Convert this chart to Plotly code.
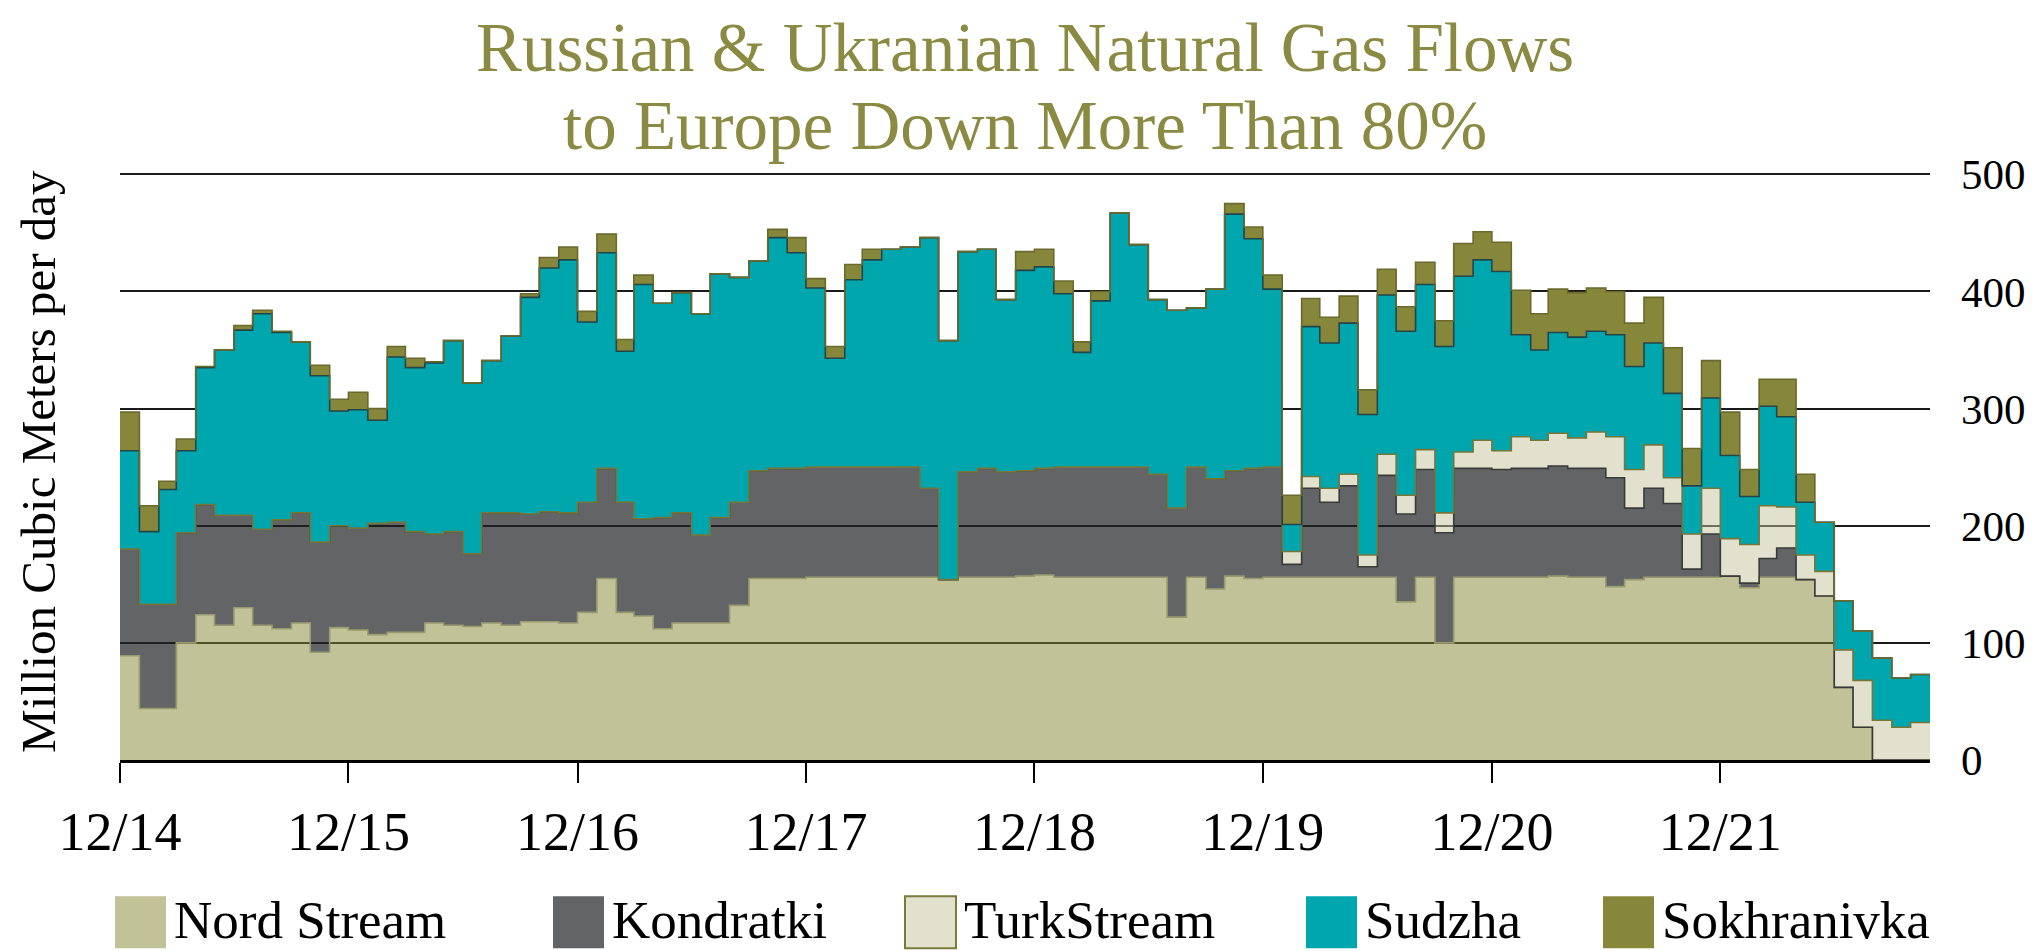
import pandas as pd
from plotly import graph_objects as go

# monthly flows, million cubic meters per day, Dec 2014 .. Oct 2022
nord_stream = [89, 44, 44, 100, 124, 115, 130, 115, 112, 117, 92, 113,
               111, 107, 109, 109, 117, 115, 114, 117, 115, 118, 118, 117,
               126, 155, 126, 123, 112, 117, 117, 117, 132, 155, 155, 155,
               156, 156, 156, 156, 156, 156, 156, 154, 156, 156, 156, 157,
               158, 156, 156, 156, 156, 156, 156, 122, 156, 146, 157, 155,
               156, 156, 156, 156, 156, 156, 156, 135, 156, 100, 156, 156,
               156, 156, 156, 157, 156, 156, 148, 154, 156, 156, 156, 156,
               157, 147, 156, 156, 154, 140, 62, 28, 0, 0, 0]
kondratki = [91, 89, 89, 94, 94, 94, 79, 82, 93, 94, 94, 87,
             87, 95, 94, 86, 76, 80, 62, 94, 96, 92, 94, 94,
             94, 94, 94, 83, 95, 94, 75, 90, 88, 92, 94, 94,
             94, 94, 94, 94, 94, 94, 76, 0, 90, 93, 90, 90,
             91, 94, 94, 94, 94, 94, 88, 93, 94, 94, 90, 94,
             94, 11, 76, 64, 78, 9, 87, 75, 92, 94, 93, 93,
             92, 93, 93, 94, 93, 93, 93, 61, 76, 63, 7, 37,
             0, 4, 16, 25, 0, 0, 0, 0, 0, 0, 0]
turkstream = [0] * 61 + [11, 10, 12, 10, 10, 18, 16, 17, 17, 14, 24,
                         16, 27, 24, 28, 26, 31, 35, 33, 37, 22, 30, 39,
                         32, 33, 45, 35, 21, 21, 32, 40, 34, 28, 32]
sudzha = [84, 62, 98, 70, 117, 141, 158, 184, 160, 146, 142, 98,
          101, 88, 141, 140, 146, 163, 146, 130, 151, 185, 208, 216,
          154, 184, 129, 200, 183, 188, 189, 208, 192, 179, 197, 184,
          153, 93, 160, 177, 186, 188, 214, 204, 188, 187, 147, 171,
          172, 148, 98, 142, 217, 190, 149, 169, 136, 162, 219, 196,
          152, 23, 128, 124, 129, 120, 136, 140, 141, 142, 150, 154,
          153, 87, 77, 86, 86, 86, 87, 88, 87, 72, 41, 77,
          71, 41, 85, 77, 45, 42, 42, 42, 53, 42, 41]
sokhranivka = [33, 22, 7, 10, 1, 0, 4, 3, 1, 0, 9, 10,
               15, 10, 9, 8, 1, 0, 0, 0, 0, 3, 9, 11,
               9, 16, 10, 8, 0, 0, 0, 0, 0, 0, 7, 13,
               8, 10, 13, 9, 0, 0, 0, 0, 0, 0, 0, 16,
               15, 11, 9, 8, 0, 0, 0, 0, 0, 0, 9, 10,
               12, 25, 24, 22, 23, 21, 22, 21, 19, 22, 28, 24,
               25, 38, 31, 37, 38, 37, 37, 37, 39, 39, 32, 32,
               37, 23, 23, 32, 24, 0, 0, 0, 0, 0, 0]

names = ['Nord Stream', 'Kondratki', 'TurkStream', 'Sudzha', 'Sokhranivka']
tick_labels = ['12/14', '12/15', '12/16', '12/17', '12/18', '12/19', '12/20', '12/21']

# fills of the lower bands are partly transparent so the grid shows through, like the original
fill_colors = ['rgba(133,133,51,0.5)', 'rgba(32,34,36,0.7)', 'rgba(195,195,155,0.5)', '#00a6ae', '#87873c']
swatch_colors = ['#c2c299', '#636466', '#e1e1cd', '#00a6ae', '#87873c']
line_colors = ['#9a9a70', '#3a3a3a', '#76763a', '#22454a', '#6a6a2c']
olive = '#8a8a42'
font = 'Liberation Serif'

months = pd.date_range('2014-12-01', periods=len(nord_stream) + 1, freq='MS')
tick_dates = pd.date_range('2014-12-01', periods=len(tick_labels), freq='12MS')

series = [nord_stream, kondratki, turkstream, sudzha, sokhranivka]
fig = go.Figure()
for name, vals, fc, lc in zip(names, series, fill_colors, line_colors):
	# repeat the last month so the final step reaches the end of the axis
	y = list(vals) + [vals[-1]]
	fig.add_trace(go.Scatter(x=months, y=y, name=name, mode='lines', stackgroup='flows',
		line=dict(shape='hv', color=lc, width=1.6), fillcolor=fc, showlegend=False,
		hoverinfo='x+y+name'))

# the page puts the figure 8px in from the corner, so work in page pixels minus 8
OFF = 8
W, H = 2043 - OFF, 951 - OFF
YMAX = 502
L, R, B = 120 - OFF, 1930 - OFF, 760.5 - OFF
T = B - YMAX * 1.173
def px(x):
	return (x - OFF - L) / (R - L)
def py(y):
	return (B - (y - OFF)) / (B - T)

# hand-drawn legend with big square swatches (page pixel positions)
legend_x = [115, 553, 905, 1306, 1603]
for name, sc, lx in zip(names, swatch_colors, legend_x):
	border = dict(color='#7a7a3a', width=2) if name == 'TurkStream' else dict(width=0)
	fig.add_shape(type='rect', xref='paper', yref='paper', x0=px(lx), x1=px(lx + 51),
		y0=py(897), y1=py(949), fillcolor=sc, line=border)
	fig.add_annotation(text=name, xref='paper', yref='paper', x=px(lx + 57), y=py(921),
		xanchor='left', yanchor='middle', showarrow=False, font=dict(family=font, size=53, color='black'))

for line, ty in [('Russian & Ukranian Natural Gas Flows', 47), ('to Europe Down More Than 80%', 126)]:
	fig.add_annotation(text=line, xref='paper', yref='paper', x=0.5, y=py(ty), xanchor='center',
		yanchor='middle', showarrow=False, font=dict(family=font, size=69, color=olive))
fig.add_annotation(text='Million Cubic Meters per day', xref='paper', yref='paper', x=px(39), y=py(462),
	textangle=-90, xanchor='center', yanchor='middle', showarrow=False,
	font=dict(family=font, size=49, color='black'))

fig.update_layout(width=W, height=H, margin=dict(l=L, r=W - R, t=T, b=H - B),
	paper_bgcolor='white', plot_bgcolor='white', font=dict(family=font, color='black'),
	xaxis=dict(type='date', range=[months[0], months[-1]], tickvals=tick_dates, ticktext=tick_labels,
		ticks='outside', ticklen=20, tickwidth=2, tickcolor='black', showline=True, linecolor='black',
		linewidth=3, showgrid=False, zeroline=False, tickfont=dict(size=54), ticklabelstandoff=2,
		automargin=False),
	yaxis=dict(range=[0, YMAX], side='right', tickvals=[0, 100, 200, 300, 400, 500], showgrid=True,
		gridcolor='#1a1a1a', gridwidth=2, zeroline=False, showline=False, tickfont=dict(size=43),
		ticks='', ticklabelstandoff=30, automargin=False))

fig.write_html('out.html')
